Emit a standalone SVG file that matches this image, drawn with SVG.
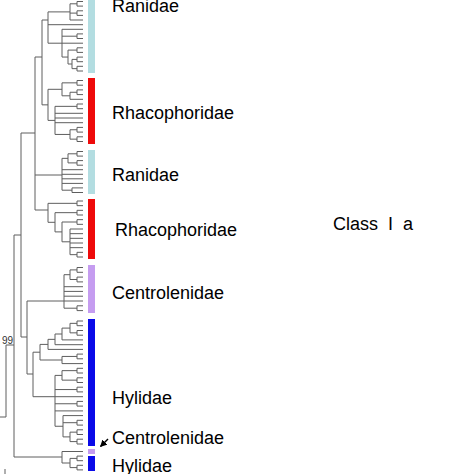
<svg xmlns="http://www.w3.org/2000/svg" width="474" height="474" viewBox="0 0 474 474">
<defs>
<style>
.t{fill:none;stroke:#5e5e5e;stroke-width:1}
.lbl{font-family:"Liberation Sans",Arial,sans-serif;font-size:18px;fill:#000}
.sup{font-family:"Liberation Sans",Arial,sans-serif;font-size:10px;fill:#333}
.lb{fill:#b3dde1}.rd{fill:#ee0a0a}.lv{fill:#c59cf0}.bl{fill:#0a0ae8}
</style>
<marker id="ah" viewBox="0 0 10 10" refX="9" refY="5" markerWidth="5" markerHeight="5" orient="auto"><path d="M0 0L10 5L0 10z" fill="#000"/></marker>
</defs>
<rect width="474" height="474" fill="#fff"/>
<g id="connectors">
<path class="t" d="M77 1.5V6.1M77 1.5H83M77 6.1H83M77 10.8V15.4M77 10.8H83M77 15.4H83M70 3.8V20M70 3.8H77M70 13.1H77M70 20H83M77 33.9V38.5M77 33.9H83M77 38.5H83M77 47.8V52.4M77 47.8H83M77 52.4H83M77 57.1V61.7M77 57.1H83M77 61.7H83M77 66.3V71M77 66.3H83M77 71H83M72 59.4V68.65M72 59.4H77M72 68.65H77M68 50.1V64M68 50.1H77M68 64H72M62 29.3V57.05M62 29.3H83M62 36.2H77M62 43.2H83M62 57.05H68M48 11.9V43.2M48 11.9H70M48 24.7H83M48 43.2H62"/>
<path class="t" d="M77 80.5V85.2M77 80.5H83M77 85.2H83M77 89.9V94.6M77 89.9H83M77 94.6H83M70 92.25V99.3M70 92.25H77M70 99.3H83M62 82.85V95.8M62 82.85H77M62 95.8H70M77 104V108.7M77 104H83M77 108.7H83M77 127.4V132.1M77 127.4H83M77 132.1H83M77 136.8V141.5M77 136.8H83M77 141.5H83M70 129.75V139.15M70 129.75H77M70 139.15H77M55 106.35V134.45M55 106.35H77M55 113.3H83M55 118H83M55 122.7H83M55 134.45H70M48 89.3V120.4M48 89.3H62M48 120.4H55M42 20V104.85M42 20H48M42 104.85H48"/>
<path class="t" d="M77 151.5V156.1M77 151.5H83M77 156.1H83M77 160.6V165.2M77 160.6H83M77 165.2H83M68 153.8V162.9M68 153.8H77M68 162.9H77M72 187.9V192.5M72 187.9H83M72 192.5H83M62 158.35V190.2M62 158.35H68M62 169.7H83M62 174.3H83M62 178.8H83M62 183.4H83M62 190.2H72"/>
<path class="t" d="M77 201V205.67M77 201H83M77 205.67H83M77 210.33V215M77 210.33H83M77 215H83M77 219.67V224.33M77 219.67H83M77 224.33H83M77 252.33V257M77 252.33H83M77 257H83M70 229V254.67M70 229H83M70 233.67H83M70 238.33H83M70 243H83M70 247.67H83M70 254.67H77M62 222V241.8M62 222H77M62 241.8H70M55 212.67V231.9M55 212.67H77M55 231.9H62M48 203.33V222.3M48 203.33H77M48 222.3H55M35 57V210M35 57H42M35 175H62M35 210H48"/>
<path class="t" d="M77 267.5V272.3M77 267.5H83M77 272.3H83M77 277.1V281.9M77 277.1H83M77 281.9H83M70 269.9V279.5M70 269.9H77M70 279.5H77M77 305.8V310.6M77 305.8H83M77 310.6H83M64 274.7V308.2M64 274.7H70M64 286.7H83M64 291.4H83M64 296.2H83M64 301H83M64 308.2H77"/>
<path class="t" d="M77 321V325.7M77 321H83M77 325.7H83M77 330.5V335.2M77 330.5H83M77 335.2H83M70 323.35V332.85M70 323.35H77M70 332.85H77M62 328.1V339.9M62 328.1H70M62 339.9H83M55 334V344.7M55 334H62M55 344.7H83M48 339.35V349.4M48 339.35H55M48 349.4H83M77 354.1V358.8M77 354.1H83M77 358.8H83M62 356.45V363.6M62 356.45H77M62 363.6H83M40 344.4V360M40 344.4H48M40 360H62M77 368.3V373M77 368.3H83M77 373H83M77 377.8V382.5M77 377.8H83M77 382.5H83M62 370.65V380.15M62 370.65H77M62 380.15H77M77 387.2V391.9M77 387.2H83M77 391.9H83M77 401.4V406.1M77 401.4H83M77 406.1H83M77 420.3V425.1M77 420.3H83M77 425.1H83M77 429.8V434.5M77 429.8H83M77 434.5H83M77 439.2V444M77 439.2H83M77 444H83M70 432.15V441.6M70 432.15H77M70 441.6H77M63 415.6V436.9M63 415.6H83M63 422.7H77M63 436.9H70M55 375.4V426.25M55 375.4H62M55 389.55H77M55 396.7H83M55 403.75H77M55 410.9H83M55 426.25H63M33 352.2V396.7M33 352.2H40M33 396.7H55"/>
<path class="t" d="M27 301V374M27 301H64M27 374H33M21 133V337M21 133H35M21 337H27"/>
<path class="t" d="M77 456.1V460.7M77 456.1H83M77 460.7H83M77 465.3V469.9M77 465.3H83M77 469.9H83M70 458.4V467.6M70 458.4H77M70 467.6H77M62 451.5V463M62 451.5H83M62 463H70M14 235V457M14 235H21M14 457H62M6 345V417M6 345H14M0 417H6M5 469V474"/>
<path d="M108 439L100.5 446.5" stroke="#000" stroke-width="1.4" marker-end="url(#ah)"/>
</g>
<g id="bars">
<rect class="lb" x="88" y="0" width="7" height="73"/>
<rect class="rd" x="88" y="78" width="7" height="66"/>
<rect class="lb" x="88" y="150" width="7" height="44"/>
<rect class="rd" x="88" y="199" width="7" height="60"/>
<rect class="lv" x="88" y="265" width="7" height="48"/>
<rect class="bl" x="88" y="319" width="7" height="127"/>
<rect class="lv" x="88" y="449" width="7" height="5"/>
<rect class="bl" x="88" y="456" width="7" height="15"/>
</g>
<g id="node-support"><text class="sup" x="2" y="344">99</text></g>
<g id="label-ranidae-1"><text class="lbl" x="112" y="12">Ranidae</text></g>
<g id="label-rhacophoridae-1"><text class="lbl" x="112" y="119">Rhacophoridae</text></g>
<g id="label-ranidae-2"><text class="lbl" x="112" y="181">Ranidae</text></g>
<g id="label-rhacophoridae-2"><text class="lbl" x="115" y="236">Rhacophoridae</text></g>
<g id="label-centrolenidae-1"><text class="lbl" x="112" y="299">Centrolenidae</text></g>
<g id="label-hylidae-1"><text class="lbl" x="112" y="404">Hylidae</text></g>
<g id="label-centrolenidae-2"><text class="lbl" x="112" y="444">Centrolenidae</text></g>
<g id="label-hylidae-2"><text class="lbl" x="112" y="472">Hylidae</text></g>
<g id="label-class"><text class="lbl" x="333" y="230" word-spacing="5">Class I a</text></g>
</svg>
